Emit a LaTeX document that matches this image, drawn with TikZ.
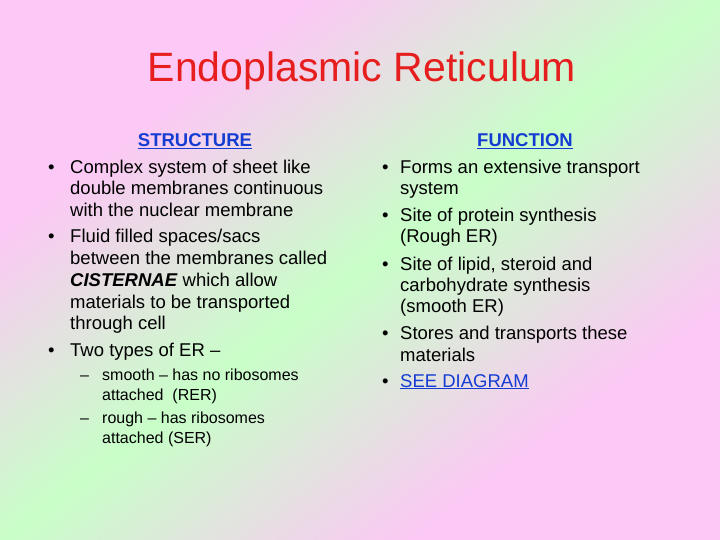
\documentclass[tikz,border=0pt]{standalone}
\usepackage{fontspec}
\setmainfont{Liberation Sans}
\definecolor{pinkc}{RGB}{252,200,245}
\definecolor{greenc}{RGB}{200,255,200}
\definecolor{titlered}{RGB}{230,30,30}
\definecolor{linkc}{RGB}{20,60,210}
\pgfdeclarehorizontalshading{bgsh}{100bp}{color(0bp)=(pinkc); color(30bp)=(pinkc); color(50bp)=(greenc); color(70bp)=(pinkc); color(100bp)=(pinkc)}
\begin{document}
\begin{tikzpicture}[x=1pt,y=-1pt,
  txt/.style={anchor=base west,inner sep=0pt,font=\fontsize{18.5}{20}\selectfont},
  sub/.style={anchor=base west,inner sep=0pt,font=\fontsize{16}{18}\selectfont},
  hd/.style={anchor=base,inner sep=0pt,text=linkc,font=\bfseries\fontsize{18.5}{20}\selectfont}]
\shade[shading=bgsh,shading angle=-53] (0,0) rectangle (720,540);
\useasboundingbox (0,0) rectangle (720,540);
\node[anchor=base,inner sep=0pt,text=titlered,font=\fontsize{41}{44}\selectfont] (title) at (362,82) {Endoplasmic Reticulum};
% left
\node[hd] (sh) at (195,147) {\underline{STRUCTURE}};
\foreach \n/\y in {b1/174,b2/243,b3/356}{\node[txt] (\n) at (48,\y) {•};}
\node[txt] (l1) at (70,174) {Complex system of sheet like};
\node[txt] (l2) at (70,195) {double membranes continuous};
\node[txt] (l3) at (70,217) {with the nuclear membrane};
\node[txt] (l4) at (70,243) {Fluid filled spaces/sacs};
\node[txt] (l5) at (70,264) {between the membranes called};
\node[txt] (l6) at (70,286) {\textbf{\textit{CISTERNAE}} which allow};
\node[txt] (l7) at (70,308) {materials to be transported};
\node[txt] (l8) at (70,329) {through cell};
\node[txt] (l9) at (70,356) {Two types of ER --};
\node[sub] (d1) at (80,380) {--};
\node[sub] (s1) at (102,380) {smooth -- has no ribosomes};
\node[sub] (s2) at (102,400) {attached\ \ (RER)};
\node[sub] (d2) at (80,423) {--};
\node[sub] (s3) at (102,423) {rough -- has ribosomes};
\node[sub] (s4) at (102,443) {attached (SER)};
% right
\node[hd] (fh) at (525,147) {\underline{FUNCTION}};
\foreach \n/\y in {c1/174,c2/222,c3/270,c4/339,c5/387}{\node[txt] (\n) at (382,\y) {•};}
\node[txt] (r1) at (400,174) {Forms an extensive transport};
\node[txt] (r2) at (400,195) {system};
\node[txt] (r3) at (400,222) {Site of protein synthesis};
\node[txt] (r4) at (400,243) {(Rough ER)};
\node[txt] (r5) at (400,270) {Site of lipid, steroid and};
\node[txt] (r6) at (400,291) {carbohydrate synthesis};
\node[txt] (r7) at (400,312) {(smooth ER)};
\node[txt] (r8) at (400,339) {Stores and transports these};
\node[txt] (r9) at (400,361) {materials};
\node[txt,text=linkc] (r10) at (400,387) {\underline{SEE DIAGRAM}};
\end{tikzpicture}
\end{document}
